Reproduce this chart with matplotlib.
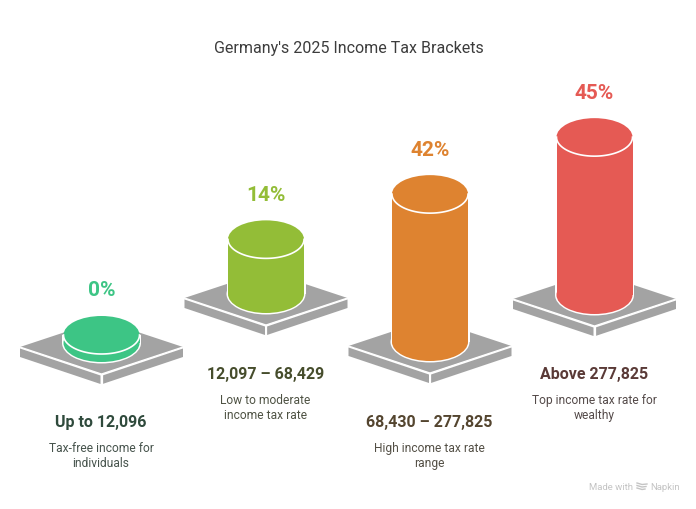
import matplotlib
matplotlib.use('Agg')
import matplotlib.pyplot as plt
import numpy as np
from matplotlib.patches import Ellipse, Polygon, Rectangle

plt.rcParams['font.family'] = ['Roboto', 'DejaVu Sans']

rates = [0, 14, 42, 45]
rate_labels = ['0%', '14%', '42%', '45%']
ranges = ['Up to 12,096', '12,097 – 68,429', '68,430 – 277,825', 'Above 277,825']
notes = ['Tax-free income for\nindividuals', 'Low to moderate\nincome tax rate',
         'High income tax rate\nrange', 'Top income tax rate for\nwealthy']
colors = ['#3dc585', '#93bd37', '#de8330', '#e55a54']
range_colors = ['#2f4a3c', '#464d2c', '#54452f', '#5a3a37']
note_colors = ['#46534c', '#4e5243', '#534f45', '#544a49']

# plate centre x, y of the plate's front corner, y of the range and note text
center_x = [101.5, 266, 430, 594.5]
front_y = [374, 325, 373, 326]
range_y = [422, 374, 422, 374]
note_y = [456, 408, 456, 408]

GREY = '#a3a3a3'
RX = 38
RY = 19


# rate -> cylinder height in px
def body_height(rate):
    return 8 + 3.33 * rate


fig = plt.figure(figsize=(696 / 100, 509 / 100), dpi=100)
ax = fig.add_axes([0, 0, 1, 1])
ax.set_xlim(0, 696)
ax.set_ylim(509, 0)
ax.axis('off')


def draw_plate(cx, fy):
    hw, hh, thick = 81.5, 27, 10
    left = (cx - hw, fy - hh)
    right = (cx + hw, fy - hh)
    front = (cx, fy)
    back = (cx, fy - 2 * hh)
    ax.add_patch(Polygon([left, front, right, back], fc=GREY, ec='none', zorder=2))
    ax.add_patch(Polygon([(left[0], left[1] + 1.5), (cx - 1, fy + 1.5), (cx - 1, fy + thick),
                          (left[0], left[1] + thick)], fc=GREY, ec='none', zorder=2))
    ax.add_patch(Polygon([(cx + 1, fy + 1.5), (right[0], right[1] + 1.5), (right[0], right[1] + thick),
                          (cx + 1, fy + thick)], fc=GREY, ec='none', zorder=2))
    # white bevel along the front edges
    ax.plot([left[0], cx, right[0]], [left[1], fy, right[1]], color='white', lw=0.9, zorder=3)
    ax.plot([cx, cx], [fy, fy + thick + 1], color='white', lw=0.9, zorder=3)


def draw_cylinder(cx, bottom, h, color):
    top = bottom - h
    # white halo first, then the body, then the lid with its rim line
    ax.add_patch(Ellipse((cx, bottom), 2 * RX + 3, 2 * RY + 3, fc='white', ec='none', zorder=4))
    ax.add_patch(Rectangle((cx - RX - 1.5, top), 2 * RX + 3, h, fc='white', ec='none', zorder=4))
    ax.add_patch(Ellipse((cx, bottom), 2 * RX, 2 * RY, fc=color, ec='none', zorder=5))
    ax.add_patch(Rectangle((cx - RX, top), 2 * RX, h, fc=color, ec='none', zorder=5))
    theta = np.linspace(0, np.pi, 80)
    ax.plot(cx + RX * np.cos(theta), top + RY * np.sin(theta), color='white', lw=1.2, zorder=7)
    ax.add_patch(Ellipse((cx, top), 2 * RX, 2 * RY, fc=color, ec='none', zorder=6))


for i in range(4):
    cx = center_x[i]
    h = body_height(rates[i])
    bottom = front_y[i] - 31
    draw_plate(cx, front_y[i])
    draw_cylinder(cx, bottom, h, colors[i])

    ax.text(cx, bottom - h - 44, rate_labels[i], color=colors[i], fontsize=15, fontweight='bold',
            ha='center', va='center')
    ax.text(cx - 0.5, range_y[i], ranges[i], color=range_colors[i], fontsize=11.5, fontweight='bold',
            ha='center', va='center')
    ax.text(cx - 0.5, note_y[i], notes[i], color=note_colors[i], fontsize=8.65,
            ha='center', va='center', linespacing=1.14)

ax.text(348.5, 48, "Germany's 2025 Income Tax Brackets", color='#3c3c3c', fontsize=11.55,
        ha='center', va='center')
ax.text(589, 487, 'Made with', color='#c4c4c4', fontsize=6.8, ha='left', va='center')
ax.text(650, 487, 'Napkin', color='#c4c4c4', fontsize=6.8, ha='left', va='center')
# small stacked chevrons standing in for the logo mark
for k in range(3):
    ax.plot([637, 642, 647 - k], [483 + 2.5 * k, 484.5 + 2.5 * k, 484 + 2.5 * k], color='#c4c4c4', lw=1.0)

fig.savefig('out.png', dpi=100)
